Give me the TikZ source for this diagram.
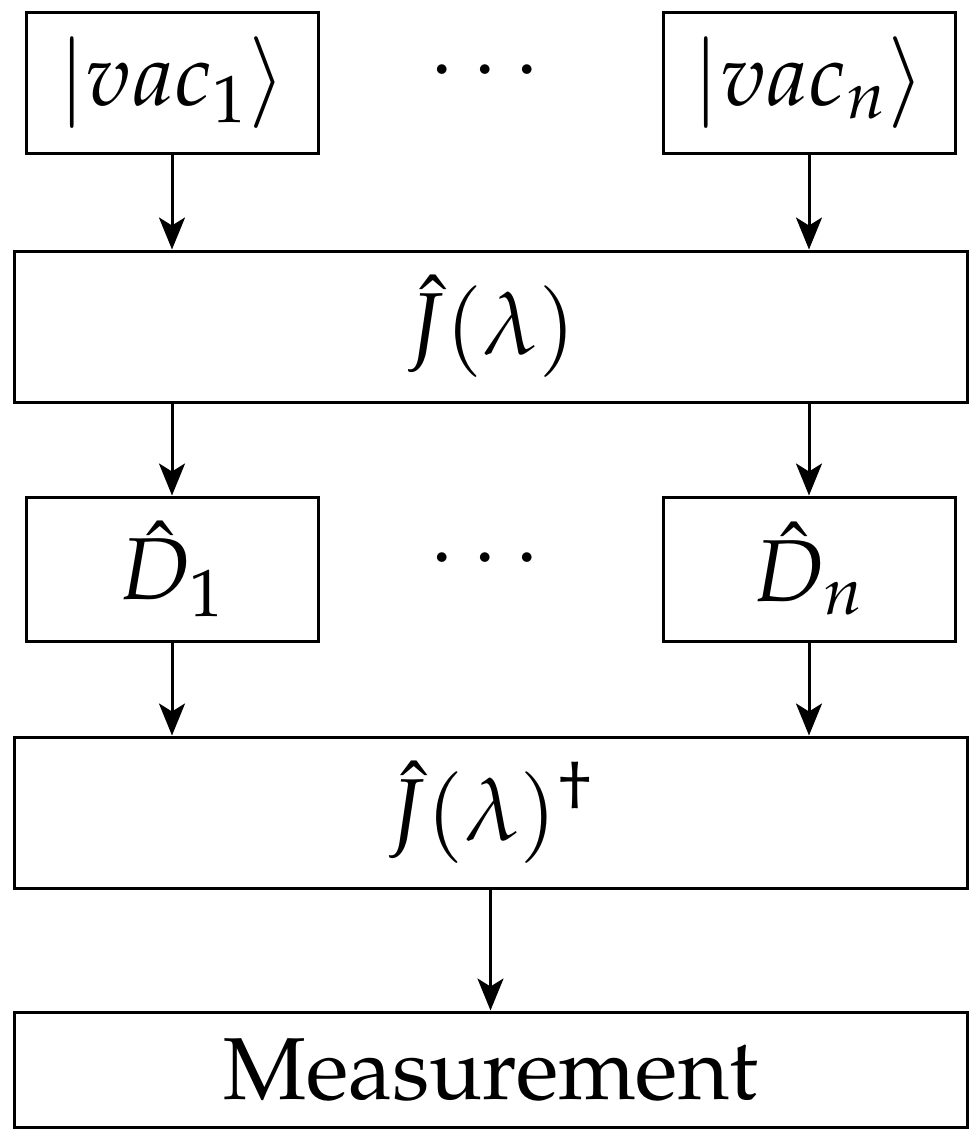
\documentclass[tikz,border=0pt]{standalone}
\usepackage[T1]{fontenc}
\usepackage{mathpazo}
\usetikzlibrary{arrows.meta}
\begin{document}
\begin{tikzpicture}[x=0.25pt,y=-0.25pt,
  box/.style={draw,line width=0.75pt,inner sep=0pt,font=\fontsize{22}{26}\selectfont},
  arr/.style={line width=0.75pt,-{Stealth[length=8pt,width=6.5pt,inset=2pt]}}]
\useasboundingbox (0,0) rectangle (980,1138);
\node[box,minimum width=73pt,minimum height=35.25pt] (v1) at (172,82.5) {$|vac_1\rangle$};
\node[box,minimum width=73pt,minimum height=35.25pt] (vn) at (809,82.5) {$|vac_n\rangle$};
\node[font=\fontsize{22}{26}\selectfont] (d1) at (485,72) {$\cdots$};
\node[box,minimum width=238.25pt,minimum height=37.75pt] (J) at (490.5,326.5) {$\hat{J}(\lambda)$};
\node[box,minimum width=73pt,minimum height=36pt] (D1) at (172,569) {$\hat{D}_1$};
\node[box,minimum width=73pt,minimum height=36pt] (Dn) at (809,569) {$\hat{D}_n$};
\node[font=\fontsize{22}{26}\selectfont] (d2) at (485,560) {$\cdots$};
\node[box,minimum width=238.25pt,minimum height=37.75pt] (Jd) at (490.5,812.5) {$\hat{J}(\lambda)^\dagger$};
\node[box,minimum width=238.25pt,minimum height=28.75pt,font=\fontencoding{T1}\fontfamily{ppl}\fontsize{22}{26}\selectfont] (M) at (490.5,1069.5) {Measurement};
\draw[arr] (v1.south) -- (v1.south |- J.north);
\draw[arr] (vn.south) -- (vn.south |- J.north);
\draw[arr] (D1.north |- J.south) -- (D1.north);
\draw[arr] (Dn.north |- J.south) -- (Dn.north);
\draw[arr] (D1.south) -- (D1.south |- Jd.north);
\draw[arr] (Dn.south) -- (Dn.south |- Jd.north);
\draw[arr] (Jd.south) -- (M.north);
\end{tikzpicture}
\end{document}
